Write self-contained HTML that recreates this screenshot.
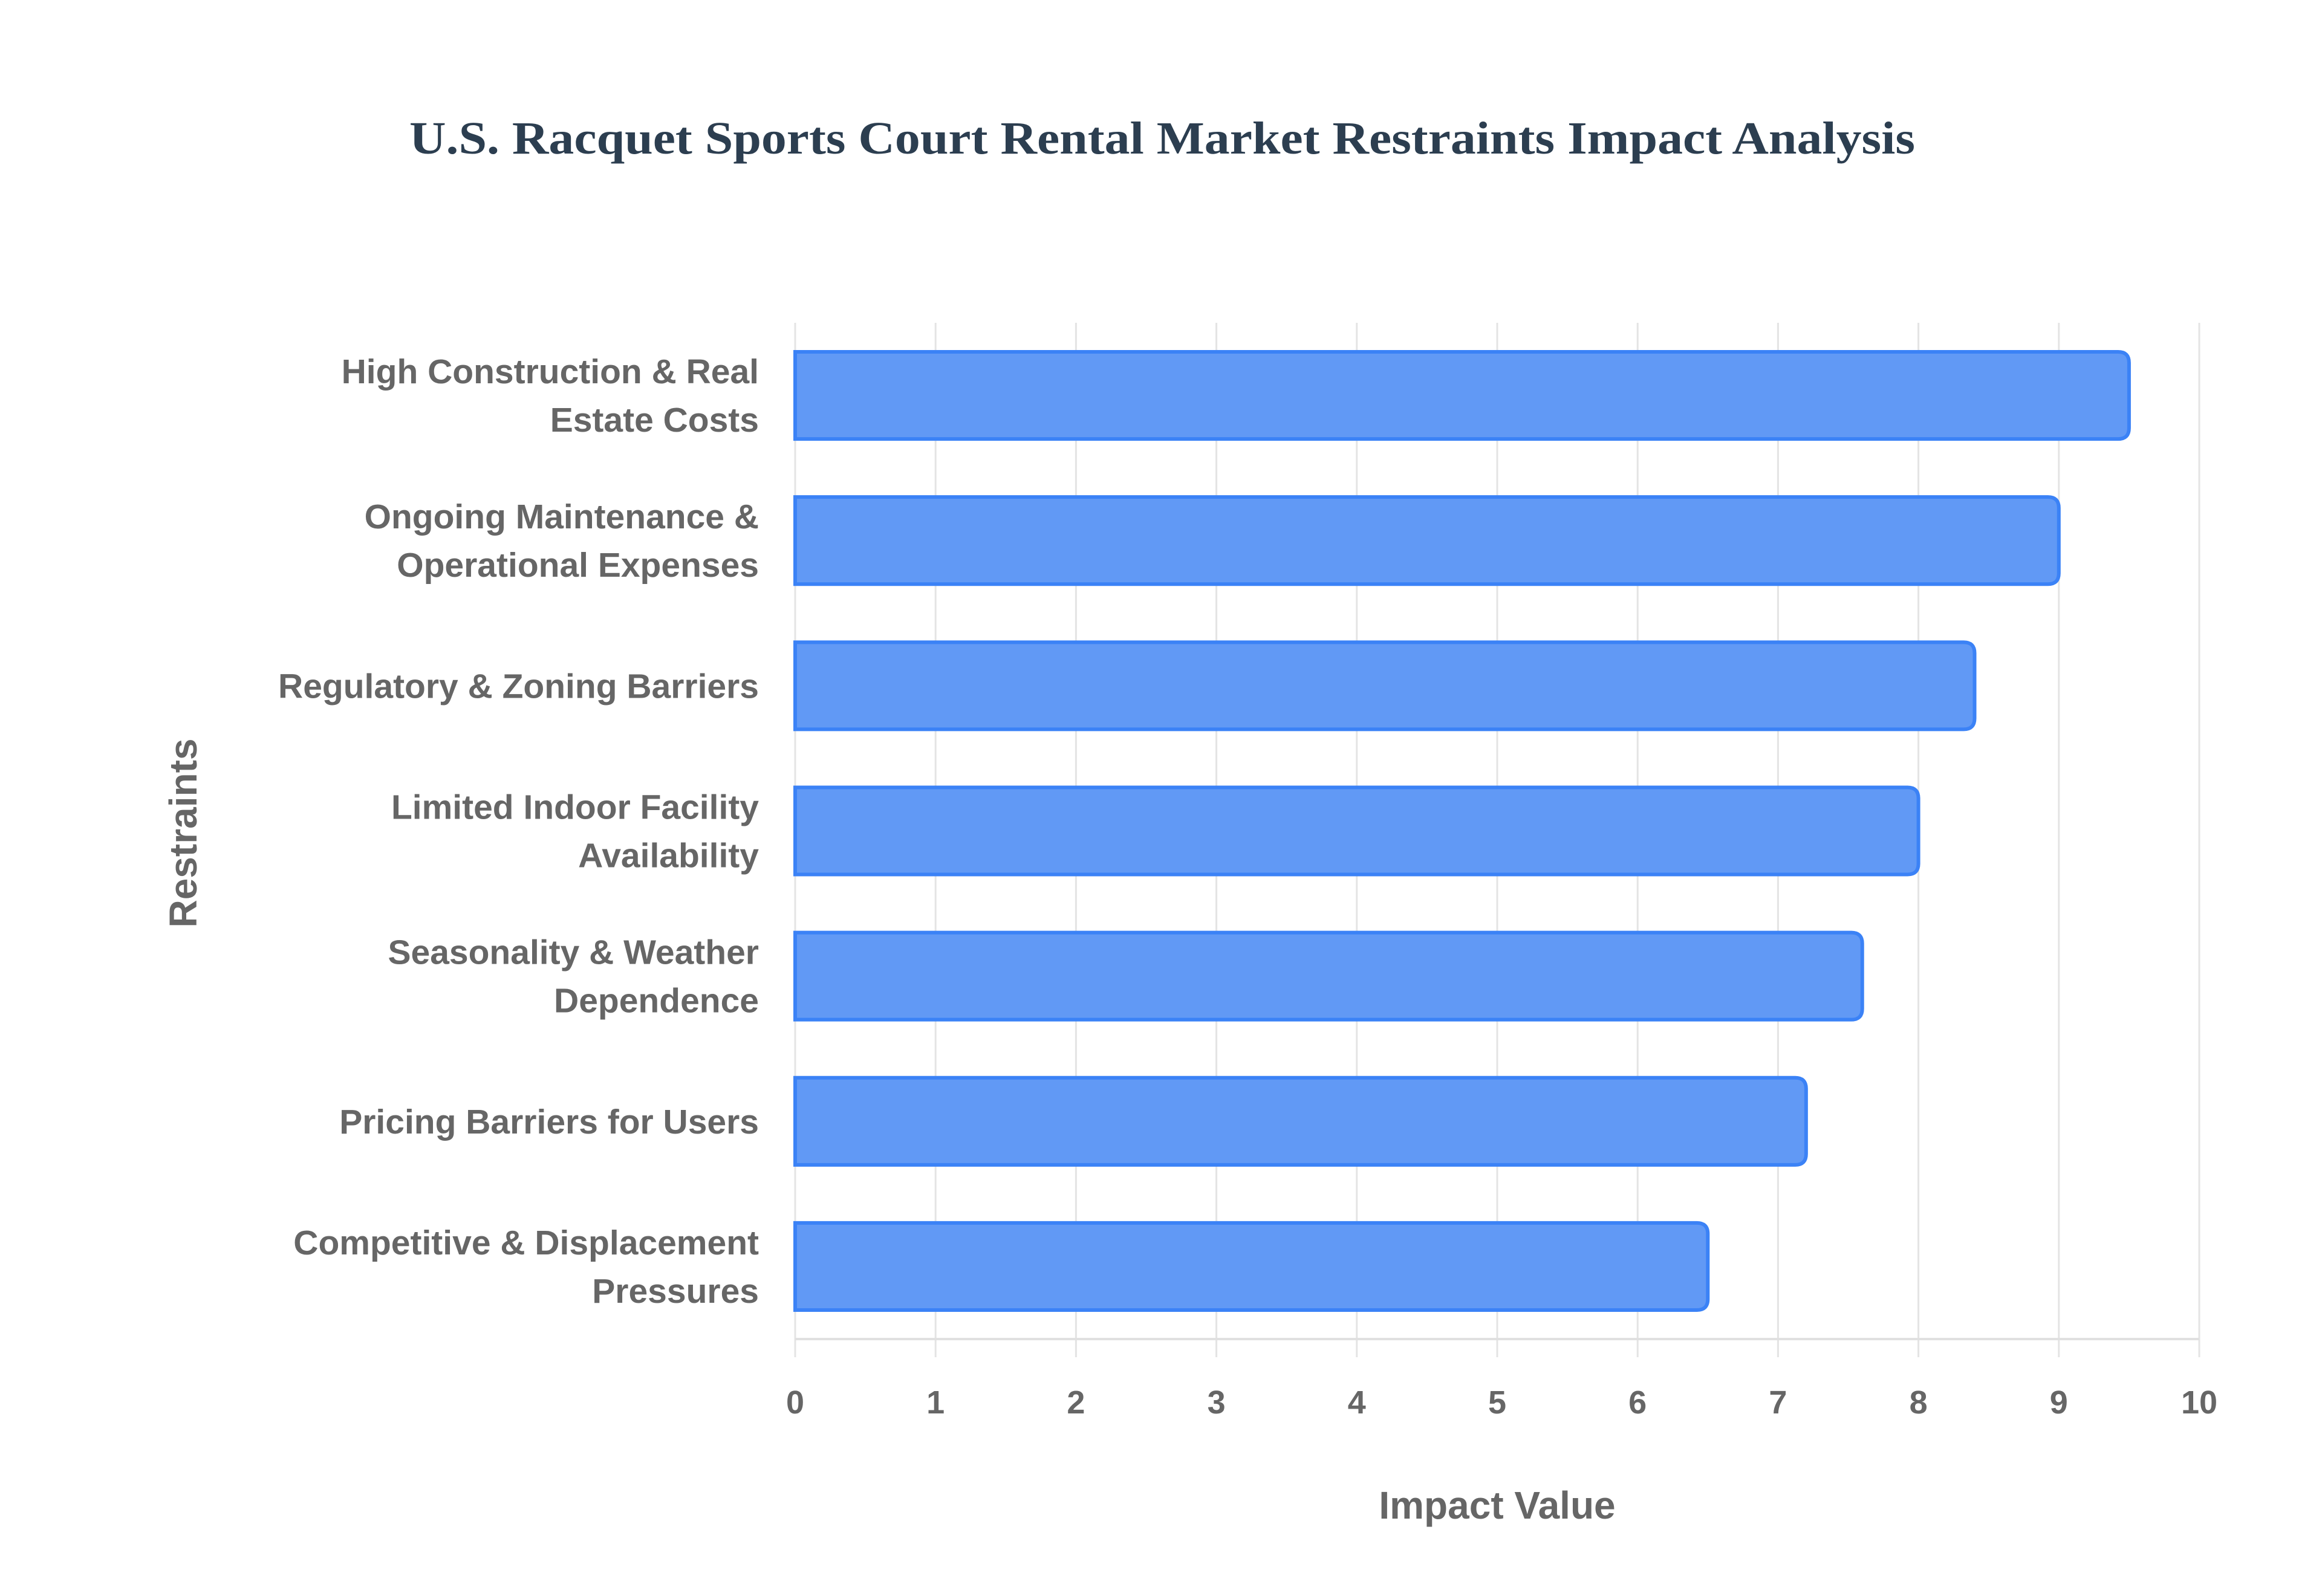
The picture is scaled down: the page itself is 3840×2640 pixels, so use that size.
<!DOCTYPE html>
<html><head><meta charset="utf-8"><style>
html,body{margin:0;padding:0;background:#fff;}
svg{display:block;}
</style></head><body>
<svg id="chart" width="3840" height="2640" viewBox="0 0 3840 2640" xmlns="http://www.w3.org/2000/svg">
<rect width="3840" height="2640" fill="#fff"/>
<text x="1922" y="254" text-anchor="middle" font-family="'Liberation Serif',serif" font-weight="bold" font-size="76" fill="#2c3e50" textLength="2490" lengthAdjust="spacingAndGlyphs">U.S. Racquet Sports Court Rental Market Restraints Impact Analysis</text>
<g id="grid"></g>
<g id="bars"></g>
<g id="ylabels"></g>
<g id="xticks"></g>
<text x="2476" y="2512" text-anchor="middle" font-family="'Liberation Sans',sans-serif" font-weight="bold" font-size="64" fill="#666">Impact Value</text>
<text transform="translate(325,1378) rotate(-90)" text-anchor="middle" font-family="'Liberation Sans',sans-serif" font-weight="bold" font-size="64" fill="#666">Restraints</text>
</svg>
<script>
const categories = [
  ["High Construction & Real","Estate Costs"],
  ["Ongoing Maintenance &","Operational Expenses"],
  ["Regulatory & Zoning Barriers"],
  ["Limited Indoor Facility","Availability"],
  ["Seasonality & Weather","Dependence"],
  ["Pricing Barriers for Users"],
  ["Competitive & Displacement","Pressures"]
];
const values = [9.5, 9.0, 8.4, 8.0, 7.6, 7.2, 6.5];
const tickLabels = ["0","1","2","3","4","5","6","7","8","9","10"];

const NS = "http://www.w3.org/2000/svg";
const X0 = 1315, X1 = 3637, XMAX = 10;
const Y0 = 534, Y1 = 2215;
const xScale = v => X0 + (v / XMAX) * (X1 - X0);
const band = (Y1 - Y0) / categories.length;
const yCenter = i => Y0 + band * (i + 0.5);
const barH = band * 0.6;

function mk(tag, attrs, parent) {
  const el = document.createElementNS(NS, tag);
  for (const k in attrs) el.setAttribute(k, attrs[k]);
  parent.appendChild(el);
  return el;
}
const grid = document.getElementById('grid');
const xt = document.getElementById('xticks');
tickLabels.forEach((t, i) => {
  const x = xScale(+t);
  const ln = mk('line', {x1: x, x2: x, y1: Y0, y2: Y1 + 30, stroke: '#e4e4e4', 'stroke-width': 3}, grid);
  
  
  const tx = mk('text', {x: x, y: 2338, 'text-anchor': 'middle', 'font-family': "'Liberation Sans',sans-serif", 'font-weight': 'bold', 'font-size': 54, fill: '#666'}, xt);
  tx.textContent = t;
  
  
});
const axis = mk('line', {x1: X0, x2: X1, y1: Y1, y2: Y1, stroke: '#e0e0e0', 'stroke-width': 4}, grid);



const bars = document.getElementById('bars');
const yl = document.getElementById('ylabels');
values.forEach((v, i) => {
  const xe = xScale(v), yc = yCenter(i), top = yc - barH / 2, bot = yc + barH / 2, r = 18;
  const d = `M${X0},${top} L${xe - r},${top} Q${xe},${top} ${xe},${top + r} L${xe},${bot - r} Q${xe},${bot} ${xe - r},${bot} L${X0},${bot} Z`;
  const p = mk('path', {d: d, fill: '#6199f5', stroke: '#3b82f6', 'stroke-width': 6}, bars);
  
  
  const lines = categories[i];
  const lh = 80;
  lines.forEach((s, j) => {
    const y = yc + (j - (lines.length - 1) / 2) * lh + 20;
    const t = mk('text', {x: 1255, y: y, 'text-anchor': 'end', 'font-family': "'Liberation Sans',sans-serif", 'font-weight': 'bold', 'font-size': 57, fill: '#666'}, yl);
    t.textContent = s;
    
    
  });
});
</script>
</body></html>
